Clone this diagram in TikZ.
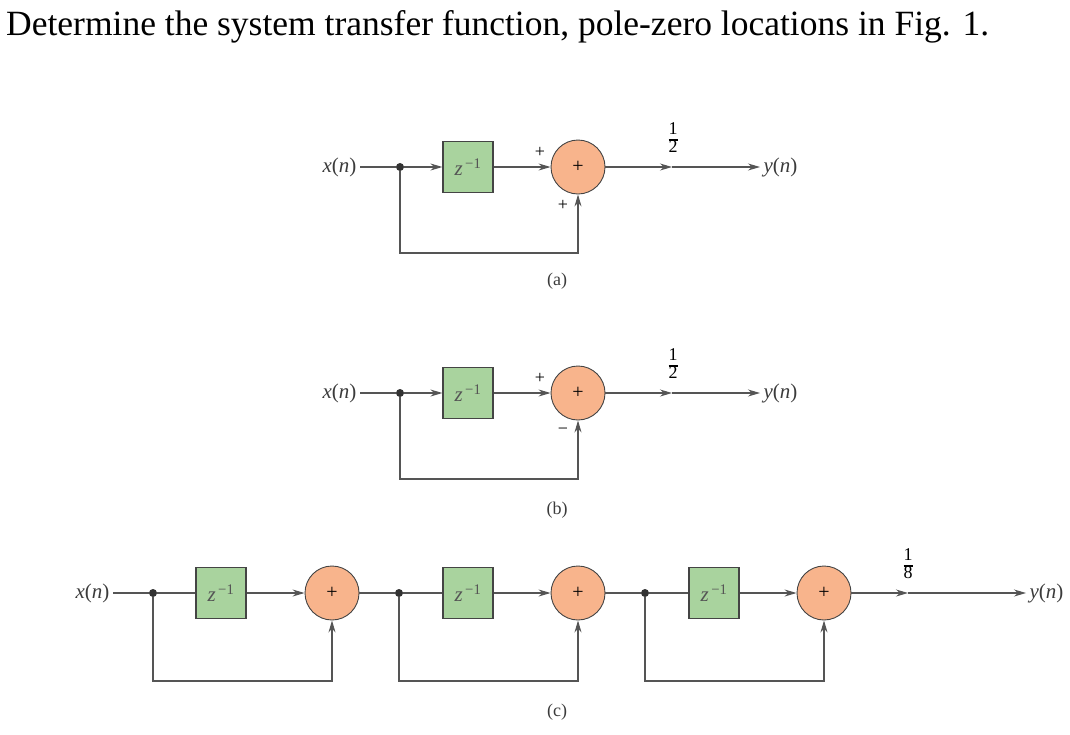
\documentclass[tikz,border=0pt]{standalone}
\usepackage{fontspec}
\setmainfont{Liberation Serif}
\usetikzlibrary{arrows.meta}
\definecolor{boxg}{HTML}{A9D39E}
\definecolor{sumo}{HTML}{F8B48C}
\definecolor{ln}{HTML}{555555}
\newcommand{\sig}[1]{\textit{#1}(\textit{n})}
\newcommand{\zinv}{\textit{z}\textsuperscript{\,−1}}
\newcommand{\fr}[2]{\renewcommand{\arraystretch}{0.85}\setlength{\arrayrulewidth}{1.2pt}\begin{tabular}{@{}c@{}}#1\\\hline #2\end{tabular}}
\tikzset{
  delaybox/.style={draw=ln!80!black,line width=1.2pt,fill=boxg,minimum width=50pt,minimum height=51pt,inner sep=0pt,font=\fontsize{21}{21}\selectfont,text=ln},
  summer/.style={circle,draw=ln!80!black,line width=0.9pt,fill=sumo,minimum size=54pt,inner sep=0pt,font=\fontsize{20}{20}\selectfont},
  wire/.style={draw=ln,line width=1.1pt},
  arr/.style={wire,-{Stealth[length=12pt,width=7pt]}},
  junc/.style={circle,fill=ln!60!black,inner sep=0pt,minimum size=8pt},
  lab/.style={font=\fontsize{21}{21}\selectfont,text=ln!70!black},
  sgn/.style={font=\fontsize{18}{18}\selectfont},
  frac/.style={font=\fontsize{18}{18}\selectfont,inner sep=0pt},
}
\begin{document}
\begin{tikzpicture}[x=1pt,y=-1pt]
\useasboundingbox (0,0) rectangle (1070,734);
\node[anchor=base west,font=\fontsize{35.5}{38}\selectfont,inner sep=0pt] (title) at (6,35) {Determine the system transfer function, pole-zero locations in Fig. 1.};
% ---------- (a)
\node[lab,anchor=east] (ax) at (360,167) {\sig{x}};
\node[junc] (ad) at (400,167) {};
\node[delaybox] (ab) at (468,167) {\zinv};
\node[summer] (as) at (578,167) {+};
\coordinate (am) at (672,167);
\node[lab,anchor=west] (ay) at (760,167) {\sig{y}};
\coordinate (afb) at (400,253);
\draw[wire] (ax) -- (ad);
\draw[arr] (ad) -- (ab);
\draw[arr] (ab) -- (as);
\draw[arr] (as) -- (am);
\draw[arr] (am) -- (ay);
\draw[arr] (ad) |- (afb) -| (as);
\node[sgn] (ap1) at (540,152) {+};
\node[sgn] (ap2) at (563,205) {+};
\node[frac] (ah) at (673,140) {\fr{1}{2}};
\node[lab,font=\fontsize{18}{18}\selectfont] (acap) at (557,281) {(a)};
% ---------- (b)
\node[lab,anchor=east] (bx) at (360,393) {\sig{x}};
\node[junc] (bd) at (400,393) {};
\node[delaybox] (bb) at (468,393) {\zinv};
\node[summer] (bs) at (578,393) {+};
\coordinate (bm) at (672,393);
\node[lab,anchor=west] (by) at (760,393) {\sig{y}};
\coordinate (bfb) at (400,479);
\draw[wire] (bx) -- (bd);
\draw[arr] (bd) -- (bb);
\draw[arr] (bb) -- (bs);
\draw[arr] (bs) -- (bm);
\draw[arr] (bm) -- (by);
\draw[arr] (bd) |- (bfb) -| (bs);
\node[sgn] (bp1) at (540,378) {+};
\node[sgn] (bp2) at (563,431) {−};
\node[frac] (bh) at (673,366) {\fr{1}{2}};
\node[lab,font=\fontsize{18}{18}\selectfont] (bcap) at (557,510) {(b)};
% ---------- (c)
\node[lab,anchor=east] (cx) at (113,593) {\sig{x}};
\node[junc] (cd1) at (153,593) {};
\node[delaybox] (cb1) at (221,593) {\zinv};
\node[summer] (cs1) at (332,593) {+};
\node[junc] (cd2) at (399,593) {};
\node[delaybox] (cb2) at (468,593) {\zinv};
\node[summer] (cs2) at (578,593) {+};
\node[junc] (cd3) at (645,593) {};
\node[delaybox] (cb3) at (714,593) {\zinv};
\node[summer] (cs3) at (824,593) {+};
\coordinate (cm) at (908,593);
\node[lab,anchor=west] (cy) at (1026,593) {\sig{y}};
\draw[wire] (cx) -- (cd1) -- (cb1);
\draw[arr] (cb1) -- (cs1);
\draw[wire] (cs1) -- (cd2) -- (cb2);
\draw[arr] (cb2) -- (cs2);
\draw[wire] (cs2) -- (cd3) -- (cb3);
\draw[arr] (cb3) -- (cs3);
\draw[arr] (cs3) -- (cm);
\draw[arr] (cm) -- (cy);
\coordinate (cf1) at (153,681);
\coordinate (cf2) at (399,681);
\coordinate (cf3) at (645,681);
\draw[arr] (cd1) |- (cf1) -| (cs1);
\draw[arr] (cd2) |- (cf2) -| (cs2);
\draw[arr] (cd3) |- (cf3) -| (cs3);
\node[frac] (ch) at (908,566) {\fr{1}{8}};
\node[lab,font=\fontsize{18}{18}\selectfont] (ccap) at (557,712) {(c)};
\end{tikzpicture}
\end{document}
